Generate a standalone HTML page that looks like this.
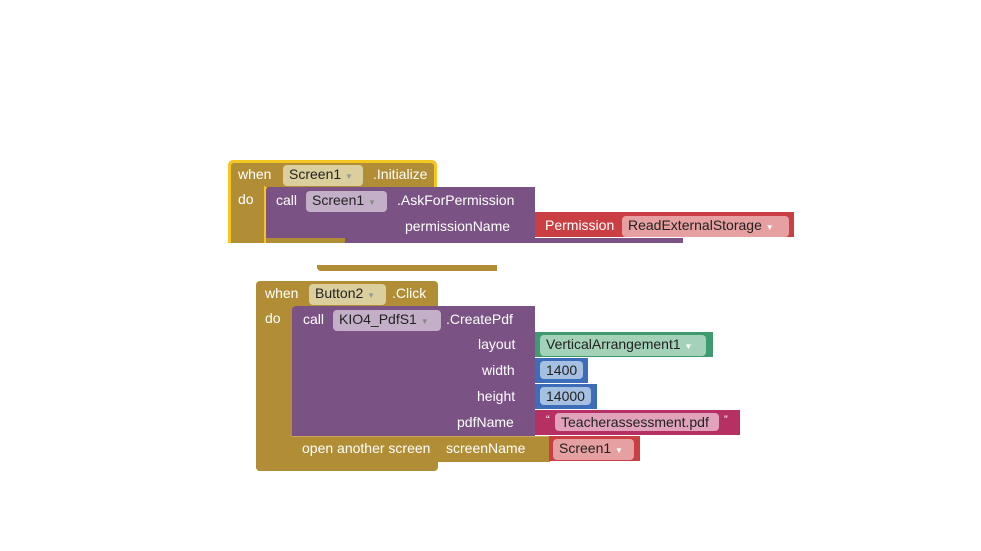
<!DOCTYPE html>
<html><head><style>
body{margin:0;width:981px;height:551px;background:#fff;position:relative;overflow:hidden;font-family:"Liberation Sans",Arial,sans-serif;font-size:14px;color:#fff}
div{position:absolute;box-sizing:border-box}
.t{white-space:nowrap;line-height:18px}
.g{background:#b18e35}.p{background:#7b5284}.r{background:#c93f43}.gr{background:#3f9a6f}.b{background:#3d6db8}.m{background:#b73064}
.dd{border-radius:4px;padding:0 6px;color:#222;line-height:18px;white-space:nowrap}
</style></head><body>
<!-- block 1 -->
<div style="left:228px;top:160px;width:209px;height:28px;background:#f5c521;border-radius:5px 5px 0 0"></div>
<div class="g" style="left:231px;top:163px;width:203px;height:24px;border-radius:3px 3px 0 0"></div>
<div style="left:228px;top:186px;width:37px;height:57px;background:#f5c521"></div>
<div class="g" style="left:231px;top:186px;width:33px;height:57px"></div>
<div class="t" style="left:238px;top:165px">when</div>
<div class="dd" style="left:283px;top:165px;width:80px;background:#dccf9e">Screen1 <span style="font-size:8px;color:#999">▼</span></div>
<div class="t" style="left:373px;top:165px">.Initialize</div>
<div class="t" style="left:238px;top:190px">do</div>
<div class="p" style="left:264px;top:187px;width:271px;height:56px;border-radius:4px 0 0 0;border-left:2px solid #f5c521"></div>
<div class="t" style="left:276px;top:191px">call</div>
<div class="dd" style="left:306px;top:191px;width:81px;background:#c3b0c8">Screen1 <span style="font-size:8px;color:#888">▼</span></div>
<div class="t" style="left:397px;top:191px">.AskForPermission</div>
<div class="t" style="left:405px;top:217px">permissionName</div>
<div class="r" style="left:535px;top:212px;width:259px;height:25px"></div>
<div class="t" style="left:545px;top:216px">Permission</div>
<div class="dd" style="left:622px;top:216px;width:167px;background:#e6a0a1">ReadExternalStorage <span style="font-size:8px;color:#fff">▼</span></div>
<div class="g" style="left:266px;top:238px;width:80px;height:5px"></div>
<div class="p" style="left:345px;top:238px;width:338px;height:5px"></div>
<div class="g" style="left:317px;top:265px;width:180px;height:6px;border-radius:0 0 0 4px"></div>
<!-- block 2 -->
<div class="g" style="left:256px;top:281px;width:182px;height:26px;border-radius:4px 4px 0 0"></div>
<div class="g" style="left:256px;top:306px;width:37px;height:165px;border-radius:0 0 0 4px"></div>
<div class="g" style="left:256px;top:461px;width:182px;height:10px;border-radius:0 0 4px 4px"></div>
<div class="t" style="left:265px;top:284px">when</div>
<div class="dd" style="left:309px;top:284px;width:77px;background:#dccf9e">Button2 <span style="font-size:8px;color:#999">▼</span></div>
<div class="t" style="left:392px;top:284px">.Click</div>
<div class="t" style="left:265px;top:309px">do</div>
<div class="p" style="left:292px;top:306px;width:243px;height:131px;border-radius:4px 0 0 0"></div>
<div class="t" style="left:303px;top:310px">call</div>
<div class="dd" style="left:333px;top:310px;width:108px;background:#c3b0c8">KIO4_PdfS1 <span style="font-size:8px;color:#888">▼</span></div>
<div class="t" style="left:446px;top:310px">.CreatePdf</div>
<div class="t" style="left:478px;top:335px">layout</div>
<div class="t" style="left:482px;top:361px">width</div>
<div class="t" style="left:477px;top:387px">height</div>
<div class="t" style="left:457px;top:413px">pdfName</div>
<div class="gr" style="left:535px;top:332px;width:178px;height:25px"></div>
<div class="dd" style="left:540px;top:335px;width:166px;background:#a4d2b8">VerticalArrangement1 <span style="font-size:8px;color:#fff">▼</span></div>
<div class="b" style="left:535px;top:358px;width:53px;height:25px"></div>
<div class="dd" style="left:540px;top:361px;background:#a6c0e2">1400</div>
<div class="b" style="left:535px;top:384px;width:62px;height:25px"></div>
<div class="dd" style="left:540px;top:387px;background:#a6c0e2">14000</div>
<div class="m" style="left:535px;top:410px;width:205px;height:25px"></div>
<div class="t" style="left:546px;top:411px;font-size:11px">“</div>
<div class="dd" style="left:555px;top:413px;width:164px;background:#e0a3bb">Teacherassessment.pdf</div>
<div class="t" style="left:724px;top:411px;font-size:11px">”</div>
<div class="g" style="left:292px;top:436px;width:258px;height:26px;border-radius:0 0 0 4px;border-top:1px solid #c9a95a"></div>
<div class="t" style="left:302px;top:439px">open another screen</div>
<div class="t" style="left:446px;top:439px">screenName</div>
<div class="r" style="left:549px;top:436px;width:91px;height:25px"></div>
<div class="dd" style="left:553px;top:439px;width:81px;background:#e6a0a1">Screen1 <span style="font-size:8px;color:#fff">▼</span></div>
</body></html>
